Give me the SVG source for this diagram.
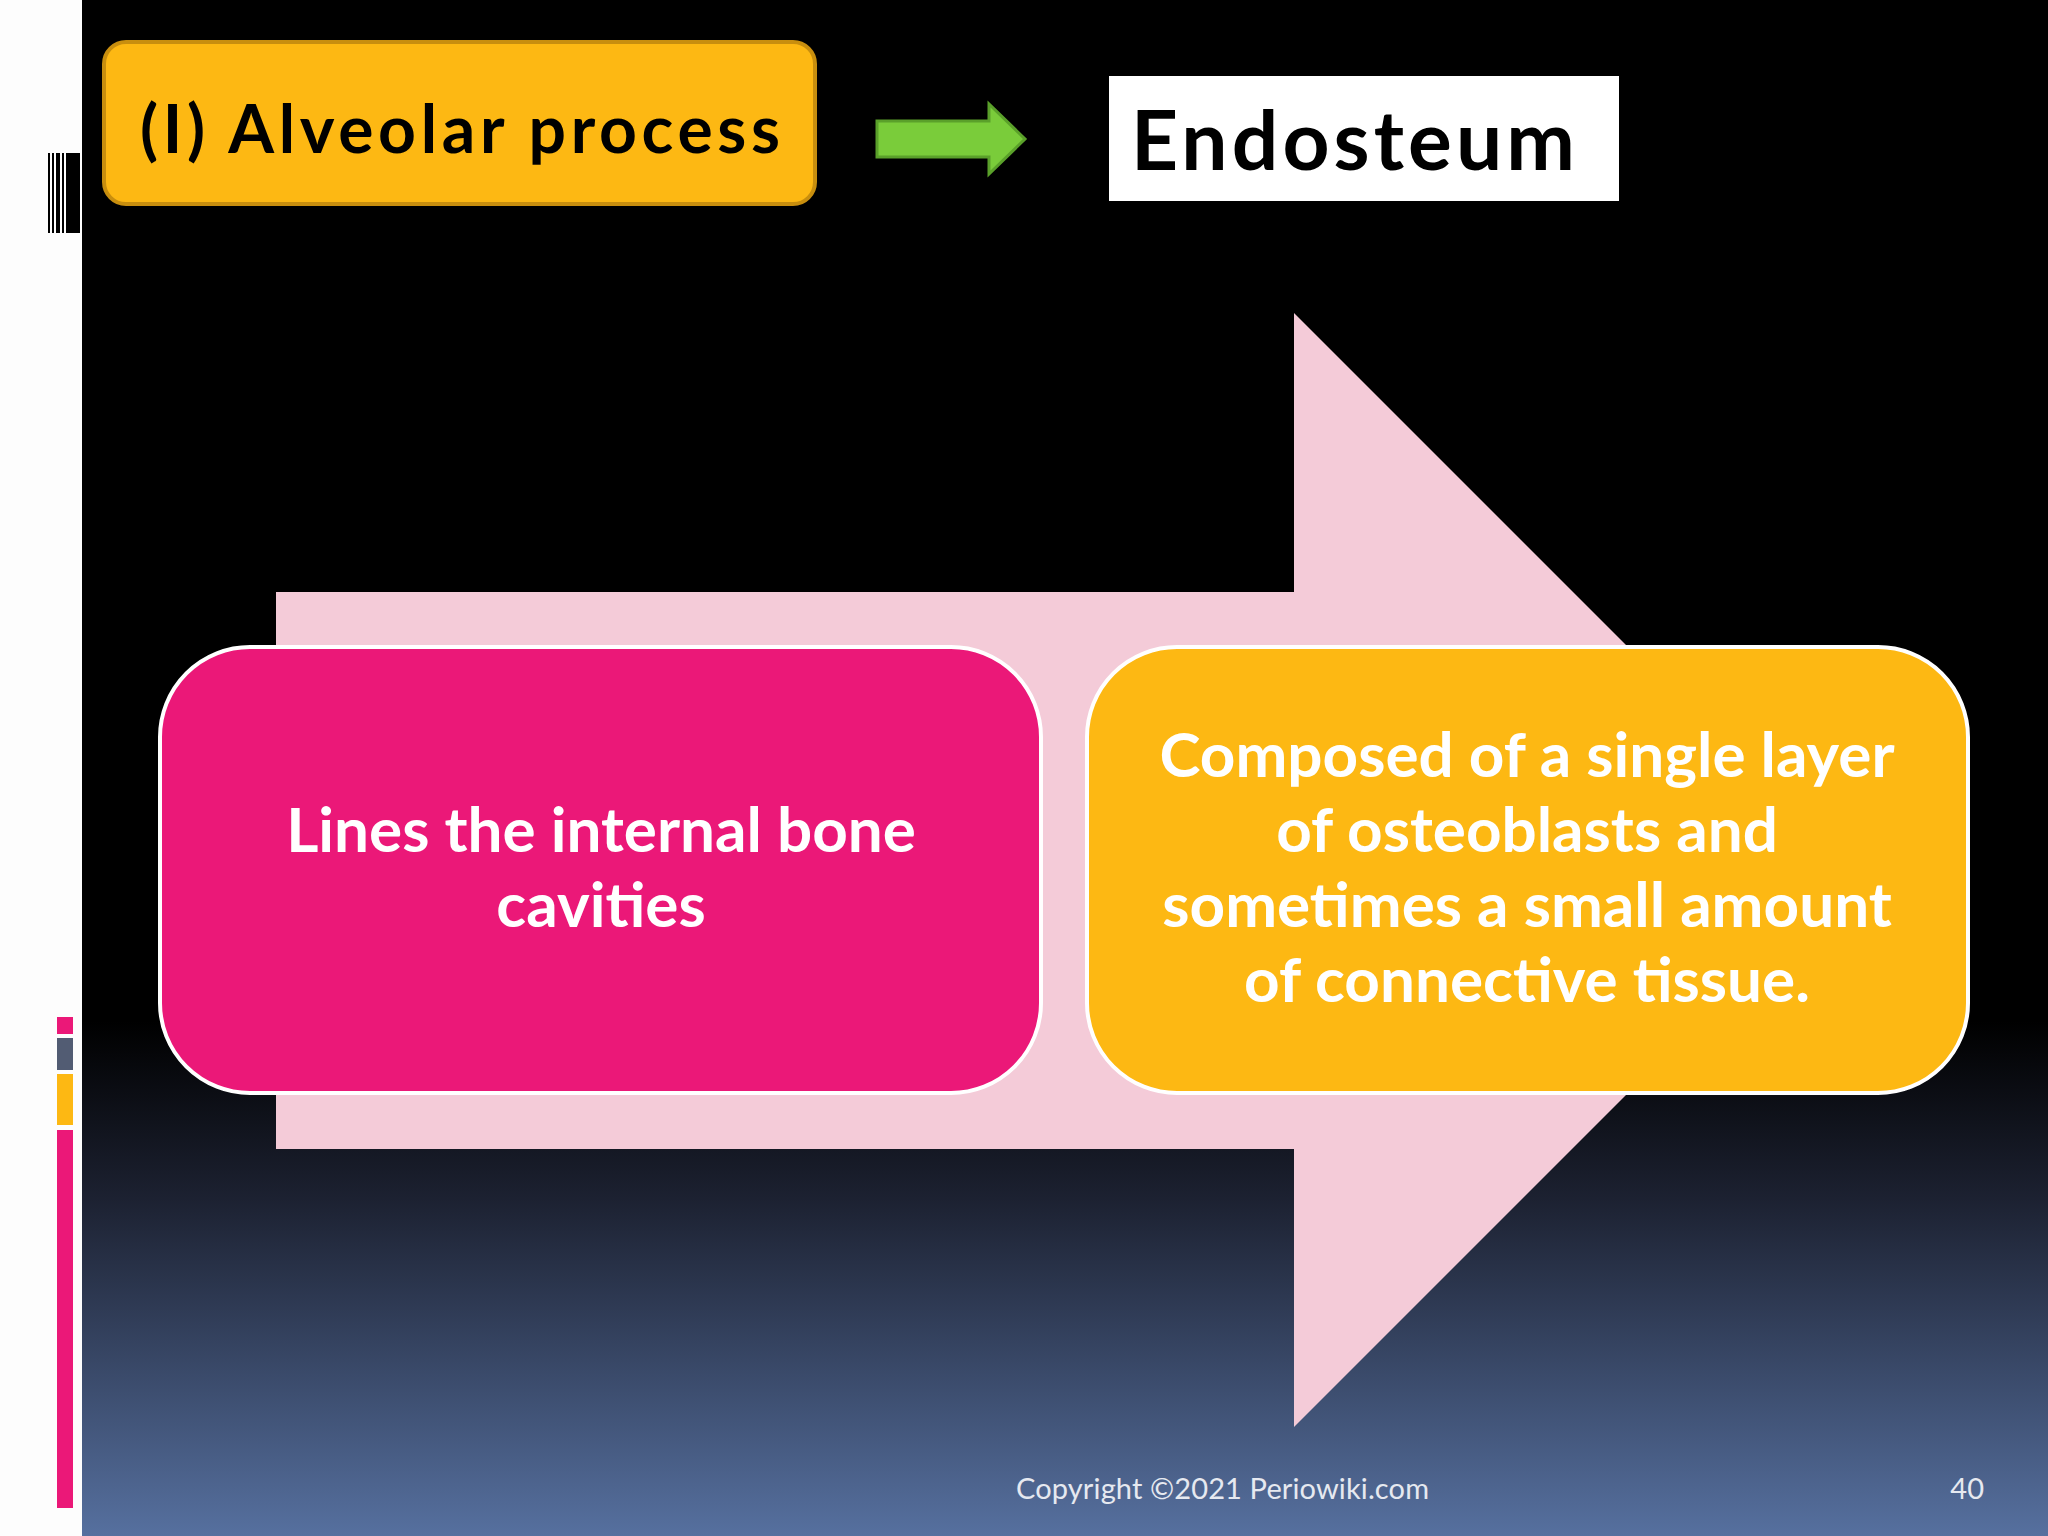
<svg xmlns="http://www.w3.org/2000/svg" width="2048" height="1536" viewBox="0 0 2048 1536">
<defs>
<linearGradient id="bg" x1="0" y1="0" x2="0" y2="1">
<stop offset="0" stop-color="#000"/><stop offset="0.665" stop-color="#000"/><stop offset="0.78" stop-color="#1c2131"/><stop offset="1" stop-color="#56709f"/>
</linearGradient>
<style>
.t{font-family:Lato,"Open Sans",sans-serif;font-weight:bold}
.w{fill:#fff;font-size:62px;text-anchor:middle}
</style>
</defs>
<rect width="2048" height="1536" fill="#fdfdfd"/>
<rect x="82" y="0" width="1966" height="1536" fill="url(#bg)"/>
<g id="barcode" fill="#000">
<rect x="48" y="153" width="2" height="80"/><rect x="52" y="153" width="2" height="80"/><rect x="56" y="153" width="4" height="80"/><rect x="62" y="153" width="2" height="80"/><rect x="66" y="153" width="14" height="80"/>
</g>
<g id="sidebars">
<rect x="57" y="1017" width="16" height="17" fill="#eb1878"/>
<rect x="57" y="1038" width="16" height="32" fill="#525c73"/>
<rect x="57" y="1074" width="16" height="51" fill="#fdb813"/>
<rect x="57" y="1130" width="16" height="378" fill="#eb1878"/>
</g>
<g id="title">
<rect x="104" y="42" width="711" height="162" rx="22" fill="#fdb813" stroke="#c88e0e" stroke-width="4"/>
<text class="t" x="140" y="153" font-size="66" fill="#000" textLength="640">(I) Alveolar process</text>
</g>
<g id="connectors">
<polygon points="877,121 989,121 989,104 1025,139 989,174 989,157 877,157" fill="#7acc3a" stroke="#5aa02a" stroke-width="3"/>
</g>
<g id="endosteum">
<rect x="1109" y="76" width="510" height="125" fill="#fff"/>
<text class="t" x="1131" y="170" font-size="82" fill="#000" textLength="444">Endosteum</text>
</g>
<g id="bigarrow">
<polygon points="276,592 1294,592 1294,313 1851,870 1294,1427 1294,1149 276,1149" fill="#f4cbd8"/>
</g>
<g id="box1">
<rect x="160" y="647" width="881" height="446" rx="90" fill="#eb1878" stroke="#fff" stroke-width="4"/>
<text class="t w" x="601" y="852">Lines the internal bone</text>
<text class="t w" x="601" y="927">cavities</text>
</g>
<g id="box2">
<rect x="1087" y="647" width="881" height="446" rx="90" fill="#fdb813" stroke="#fff" stroke-width="4"/>
<text class="t w" x="1527" y="777">Composed of a single layer</text>
<text class="t w" x="1527" y="852">of osteoblasts and</text>
<text class="t w" x="1527" y="927">sometimes a small amount</text>
<text class="t w" x="1527" y="1002">of connective tissue.</text>
</g>
<g id="footer" font-family="Lato,'Open Sans',sans-serif" font-size="29" fill="#e6e9f0">
<text x="1016" y="1499" textLength="413">Copyright ©2021 Periowiki.com</text>
<text x="1984" y="1499" text-anchor="end">40</text>
</g>
</svg>
